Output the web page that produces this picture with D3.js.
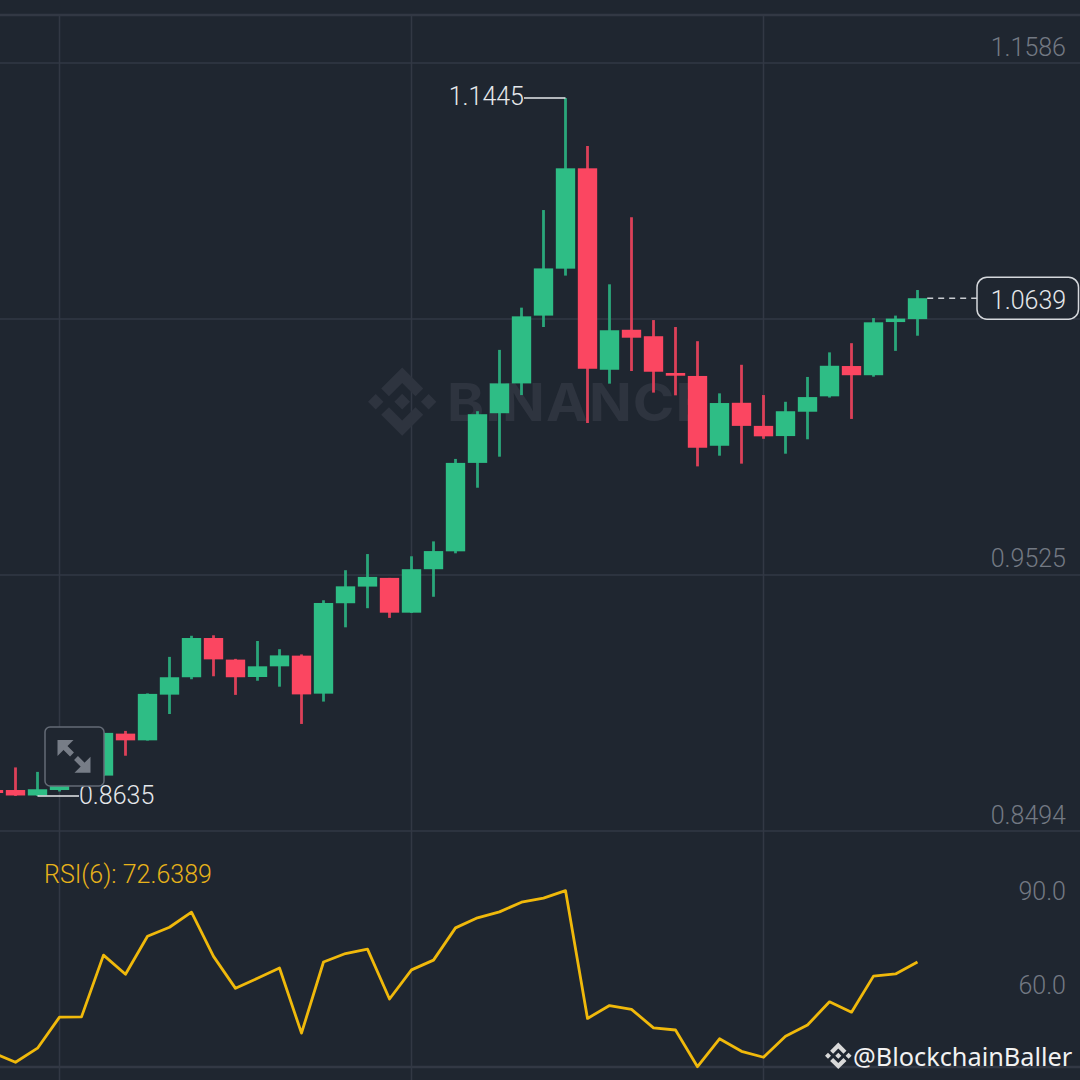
<!DOCTYPE html>
<html>
<head>
<meta charset="utf-8">
<script src="https://cdn.jsdelivr.net/npm/d3@7"></script>
<style>
  html, body { margin: 0; padding: 0; background: #1f2630; overflow: hidden; }
  svg { display: block; font-family: Roboto, sans-serif; }
</style>
</head>
<body>
<svg id="chart"></svg>
<script>
const opens  = [.8659,.8659,.8637,.8659,.8683,.8717,.8886,.8859,.9043,.9113,.9271,.9184,.9114,.9157,.9200,.9047,.9411,.9478,.9513,.9373,.9548,.9620,.9976,1.0176,1.0296,1.0569,1.0758,1.1162,1.0351,1.0512,1.0486,1.0338,1.0326,1.0045,1.0218,1.0125,1.0084,1.0182,1.0244,1.0366,1.0329,1.0543,1.0555];
const highs  = [.8663,.8750,.8732,.8691,.8723,.8889,.8897,.9048,.9195,.9280,.9282,.9187,.9259,.9226,.9205,.9423,.9544,.9609,.9513,.9600,.9660,.9992,1.0184,1.0431,1.0601,1.0994,1.1445,1.1252,1.0695,1.0965,1.0551,1.0523,1.0466,1.0256,1.0371,1.0249,1.0222,1.0322,1.0421,1.0458,1.0559,1.0569,1.0672];
const lows   = [.8643,.8635,.8635,.8653,.8679,.8715,.8797,.8858,.8965,.9105,.9117,.9042,.9099,.9075,.8925,.9015,.9314,.9391,.9352,.9372,.9437,.9612,.9876,1.0001,1.0249,1.0523,1.0730,1.0137,1.0295,1.0346,1.0259,1.0248,.9962,1.0005,.9973,1.0073,1.0013,1.0071,1.0239,1.0153,1.0323,1.0427,1.0488];
const closes = [.8647,.8637,.8662,.8683,.8715,.8889,.8859,.9046,.9113,.9271,.9185,.9113,.9157,.9201,.9044,.9412,.9479,.9517,.9373,.9548,.9621,.9976,1.0172,1.0296,1.0566,1.0759,1.1162,1.0355,1.0510,1.0480,1.0343,1.0327,1.0037,1.0217,1.0125,1.0083,1.0184,1.0241,1.0367,1.0329,1.0542,1.0557,1.0639];
const rsi6   = [43.6,40.6,45.1,55.0,55.1,74.8,68.7,80.8,83.7,88.5,74.4,64.2,67.4,70.7,49.9,72.6,75.3,76.7,60.8,70.1,73.2,83.5,86.7,88.6,91.7,93.0,95.4,54.6,58.7,57.5,51.6,50.9,39.2,48.1,44.1,42.2,48.9,52.5,59.9,56.6,68.1,68.8,72.6389];

const priceGrid   = [1.1586, 1.0555, 0.9525, 0.8494];
const priceLabels = [1.1586, 0.9525, 0.8494];
const rsiLabels   = [90, 60];
const timeGrid    = [3, 19, 35]; // candles that sit on a vertical grid line

const lastPrice = 1.0639, highPrice = 1.1445, lowPrice = 0.8635;
const highIdx = 26, lowIdx = 2, lastIdx = 42;

const width = 1080, height = 1080;
const bg = "#1f2630", gridColor = "#323844", up = "#2ebd85", down = "#fb4661";
const upWick = "#2aa67a", downWick = "#dc4058", labelGrey = "#737983", white = "#e6e8eb", gold = "#f0b90b";

const binanceLogo = "M38.73 53.2l24.59-24.58 24.6 24.6 14.3-14.31L63.32 0 24.42 38.9zM0 63.31l14.3-14.31 14.31 14.31-14.31 14.3zM38.73 73.41l24.59 24.59 24.6-24.6 14.31 14.29-38.9 38.91-38.91-38.88-.02-.02zM98.01 63.31l14.3-14.3 14.3 14.3-14.3 14.3zM77.83 63.3L63.32 48.78 52.59 59.51l-1.24 1.23-2.54 2.54 14.51 14.5 14.51-14.47z";

const x = d3.scaleBand()
    .domain(d3.range(closes.length))
    .range([-17.5, -17.5 + closes.length * 22])
    .paddingInner(0.12)
    .paddingOuter(0.06);
const cx = i => x(i) + x.bandwidth() / 2;

const y = d3.scaleLinear().domain([0.8494, 1.1586]).range([831, 63]);
const yRsi = d3.scaleLinear().domain([60, 90]).range([1001.5, 907.5]);

const svg = d3.select("#chart")
    .attr("width", width)
    .attr("height", height)
    .attr("viewBox", [0, 0, width, height]);

svg.append("rect").attr("width", width).attr("height", height).attr("fill", bg);

// grid
const grid = svg.append("g").attr("stroke", gridColor).attr("stroke-width", 1.5);
grid.selectAll(".h").data(priceGrid).join("line")
    .attr("x1", 0).attr("x2", width)
    .attr("y1", d => y(d)).attr("y2", d => y(d));
grid.selectAll(".v").data(timeGrid).join("line")
    .attr("x1", d => cx(d)).attr("x2", d => cx(d))
    .attr("y1", 15).attr("y2", height);
grid.append("line").attr("x1", 0).attr("x2", width).attr("y1", 15).attr("y2", 15).attr("stroke-width", 2.5);
grid.append("line").attr("x1", 0).attr("x2", width).attr("y1", 1067).attr("y2", 1067).attr("stroke-width", 2.5);

// big watermark, under the candles
const mark = svg.append("g").attr("fill", "#2e343f");
mark.append("path").attr("d", binanceLogo)
    .attr("transform", "translate(368,367.5) scale(0.54)");
mark.append("text")
    .attr("transform", "translate(447,420.5) scale(1.08,1)")
    .attr("font-family", "Inter, sans-serif").attr("font-weight", 700)
    .attr("font-size", 52).attr("letter-spacing", 1)
    .text("BINANCE");

// candles
const candles = svg.append("g").selectAll("g")
    .data(closes.map((c, i) => ({ i, o: opens[i], h: highs[i], l: lows[i], c })))
    .join("g");
candles.append("line")
    .attr("x1", d => cx(d.i)).attr("x2", d => cx(d.i))
    .attr("y1", d => y(d.h)).attr("y2", d => y(d.l))
    .attr("stroke", d => d.c >= d.o ? upWick : downWick)
    .attr("stroke-width", 2.8);
candles.append("rect")
    .attr("x", d => x(d.i))
    .attr("width", x.bandwidth())
    .attr("y", d => y(Math.max(d.o, d.c)))
    .attr("height", d => Math.abs(y(d.o) - y(d.c)))
    .attr("fill", d => d.c >= d.o ? up : down);

// high / low / last markers
svg.append("path")
    .attr("d", `M${cx(highIdx)},${y(highPrice)}H524`)
    .attr("fill", "none").attr("stroke", white).attr("stroke-width", 1.5);
svg.append("text").attr("x", 524).attr("y", y(highPrice))
    .attr("dy", "7px").attr("text-anchor", "end")
    .attr("font-size", 25).attr("font-weight", 300).attr("fill", white)
    .text(highPrice.toFixed(4));
svg.append("path")
    .attr("d", `M${cx(lowIdx)},${y(lowPrice)}H79`)
    .attr("fill", "none").attr("stroke", white).attr("stroke-width", 1.5);
svg.append("text").attr("x", 79).attr("y", y(lowPrice))
    .attr("dy", "8.5px")
    .attr("font-size", 25).attr("font-weight", 300).attr("fill", white)
    .text(lowPrice.toFixed(4));

svg.append("line")
    .attr("x1", cx(lastIdx) + x.bandwidth() / 2).attr("x2", 977)
    .attr("y1", y(lastPrice)).attr("y2", y(lastPrice))
    .attr("stroke", "#c9ccd1").attr("stroke-width", 1.5).attr("stroke-dasharray", "6 5");
svg.append("rect")
    .attr("x", 977).attr("width", 101.5)
    .attr("y", y(lastPrice) - 21).attr("height", 42)
    .attr("rx", 10)
    .attr("fill", bg).attr("stroke", "#d5d8dc").attr("stroke-width", 1.5);
svg.append("text").attr("x", 1028.5).attr("y", y(lastPrice))
    .attr("dy", "10.5px").attr("text-anchor", "middle")
    .attr("font-size", 25).attr("font-weight", 300).attr("fill", white)
    .text(lastPrice.toFixed(4));

// right axis labels sit above their lines
const styleTicks = g => g.selectAll("text")
    .attr("text-anchor", "end").attr("dy", "-8px")
    .attr("font-family", "Roboto, sans-serif").attr("font-size", 25).attr("font-weight", 300)
    .attr("fill", labelGrey);
const priceAxis = d3.axisRight(y).tickValues(priceLabels).tickSize(0).tickPadding(0).tickFormat(d3.format(".4f"));
svg.append("g")
    .attr("transform", "translate(1066,0)")
    .call(priceAxis)
    .call(g => g.select(".domain").remove())
    .call(styleTicks);
const rsiAxis = d3.axisRight(yRsi).tickValues(rsiLabels).tickSize(0).tickPadding(0).tickFormat(d3.format(".1f"));
svg.append("g")
    .attr("transform", "translate(1066,0)")
    .call(rsiAxis)
    .call(g => g.select(".domain").remove())
    .call(styleTicks);

// RSI
const rsiLine = d3.line().x((d, i) => cx(i)).y(d => yRsi(d));
svg.append("path")
    .attr("d", rsiLine(rsi6))
    .attr("fill", "none").attr("stroke", gold).attr("stroke-width", 2.8).attr("stroke-linejoin", "round");
svg.append("text").attr("x", 44).attr("y", 883)
    .attr("font-size", 25).attr("font-weight", 300).attr("fill", "#e8b31a")
    .text("RSI(6): " + rsi6[rsi6.length - 1].toFixed(4));

// expand button
const btn = svg.append("g");
btn.append("rect").attr("x", 45).attr("y", 727).attr("width", 59).attr("height", 59).attr("rx", 5)
    .attr("fill", bg).attr("stroke", "#646b76").attr("stroke-width", 1.5);
btn.append("path").attr("d", "M57.5,740H73.5L57.5,756ZM90.5,772.7H74.5L90.5,756.7Z").attr("fill", "#777d87");
btn.append("path").attr("d", "M62,744.5L72,754.5M86,768L76,758").attr("stroke", "#777d87").attr("stroke-width", 5.5);

// author tag
svg.append("path").attr("d", binanceLogo)
    .attr("transform", "translate(825,1042.5) scale(0.21)").attr("fill", "#d9d9d9");
svg.append("text").attr("x", 853).attr("y", 1065.5)
    .attr("font-family", "'Noto Sans', sans-serif").attr("font-size", 25.3).attr("fill", "#f2f2f2")
    .text("@BlockchainBaller");
</script>
</body>
</html>
